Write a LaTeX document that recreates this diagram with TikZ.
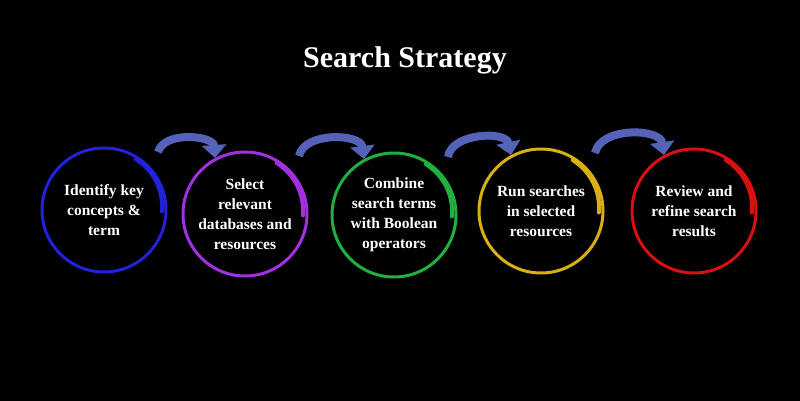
\documentclass[tikz,border=0pt]{standalone}
\usepackage{fontspec}
\setmainfont{Liberation Serif}
\usetikzlibrary{arrows.meta}
\begin{document}
\begin{tikzpicture}[x=1pt,y=-1pt,
  ring/.style={circle,minimum size=124pt,line width=3pt,draw=#1,inner sep=0pt},
  txt/.style={text=white,font=\bfseries\fontsize{15.5}{20}\selectfont,align=center},
  tail/.style={line width=4pt,draw=#1,line cap=round},
  flow/.style={line width=8pt,draw=arrowblue,-{Triangle[length=13pt,width=24pt]}}]
\definecolor{arrowblue}{HTML}{5463B8}
\definecolor{c1}{HTML}{2222DD}
\definecolor{c2}{HTML}{A030E0}
\definecolor{c3}{HTML}{20B040}
\definecolor{c4}{HTML}{D8B010}
\definecolor{c5}{HTML}{D81010}
\fill[black] (0,0) rectangle (800,401);
\useasboundingbox (0,0) rectangle (800,401);
\node[text=white,font=\bfseries\fontsize{30}{34}\selectfont] (title) at (405,60) {Search Strategy};
\node[ring=c1] (n1) at (104,210) {};
\node[ring=c2] (n2) at (245,214) {};
\node[ring=c3] (n3) at (394,215) {};
\node[ring=c4] (n4) at (541,211) {};
\node[ring=c5] (n5) at (694,211) {};
\node[txt] (t1) at (n1) {Identify key\\concepts \&\\term};
\node[txt] (t2) at (n2) {Select\\relevant\\databases and\\resources};
\node[txt] (t3) at (n3) {Combine\\search terms\\with Boolean\\operators};
\node[txt] (t4) at (n4) {Run searches\\in selected\\resources};
\node[txt] (t5) at (n5) {Review and\\refine search\\results};
\foreach \n/\c in {n1/c1,n2/c2,n3/c3,n4/c4,n5/c5}{
  \draw[tail=\c] ([shift={(-58:60)}]\n.center) arc[start angle=-58,end angle=5,radius=56];
}
\foreach \a/\b in {n1/n2,n2/n3,n3/n4,n4/n5}{
  \draw[flow] ([shift={(54,-58)}]\a.center) to[bend left=80] ([shift={(-30,-56)}]\b.center);
}
\end{tikzpicture}
\end{document}
